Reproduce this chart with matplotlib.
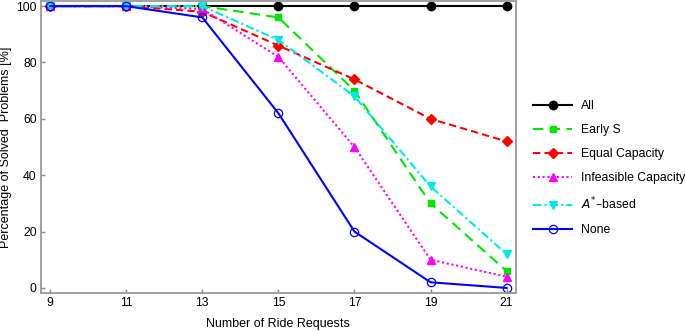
import matplotlib
matplotlib.use("Agg")
import matplotlib.pyplot as plt

plt.rcParams['font.family'] = ['Liberation Sans', 'DejaVu Sans']

# ride requests on the x axis
requests = [9, 11, 13, 15, 17, 19, 21]

# percentage of solved problems per heuristic
all_h = [100, 100, 100, 100, 100, 100, 100]
early_s = [100, 100, 100, 96, 70, 30, 6]
equal_cap = [100, 100, 98, 86, 74, 60, 52]
infeasible_cap = [100, 100, 99, 82, 50, 10, 4]
astar = [100, 100, 100, 88, 68, 36, 12]
none_h = [100, 100, 96, 62, 20, 2, 0]

labels = ['All', 'Early S', 'Equal Capacity', 'Infeasible Capacity',
          r'$A^{*}$' + '\u2013based', 'None']

fig = plt.figure(figsize=(6.85, 3.31), dpi=100)
ax = fig.add_axes([0.0599, 0.1148, 0.693, 0.882])

lw = 1.5
ax.plot(requests, all_h, color='black', ls='-', lw=lw, marker='o', ms=6, label=labels[0])
ax.plot(requests, early_s, color='#00e600', ls=(0, (5, 3)), lw=lw, marker='s', ms=4.6, label=labels[1])
ax.plot(requests, equal_cap, color='#ff0000', ls=(0, (3.5, 2)), lw=lw, marker='D', ms=4.6, label=labels[2])
ax.plot(requests, infeasible_cap, color='#ff00ff', ls=(0, (1, 1.3)), lw=lw, marker='^', ms=5.5, label=labels[3])
ax.plot(requests, astar, color='#00e8e8', ls=(0, (4, 1.5, 1, 1.5)), lw=lw, marker='v', ms=5.5, label=labels[4])
ax.plot(requests, none_h, color='#0000ff', ls='-', lw=lw, marker='o', ms=6, mfc='none', mew=0.9, label=labels[5])

ax.set_xlim(8.76, 21.24)
ax.set_ylim(-1.8, 101.8)
ax.set_xticks(requests)
ax.set_yticks([0, 20, 40, 60, 80, 100])
ax.tick_params(direction='in', length=3, width=1, color='#888888', labelsize=8.8, pad=3)
for s in ax.spines.values():
    s.set_color('#999999')
    s.set_linewidth(1.3)

ax.set_xlabel('Number of Ride Requests', fontsize=9, labelpad=6)
ax.set_ylabel('Percentage of Solved  Problems [%]', fontsize=9, labelpad=3)

fig.legend(loc='upper left', bbox_to_anchor=(0.771, 0.712), frameon=False,
           fontsize=8.8, handlelength=3.2, handletextpad=0.7, labelspacing=0.97,
           borderaxespad=0.0)

fig.savefig('out.png', dpi=100)
